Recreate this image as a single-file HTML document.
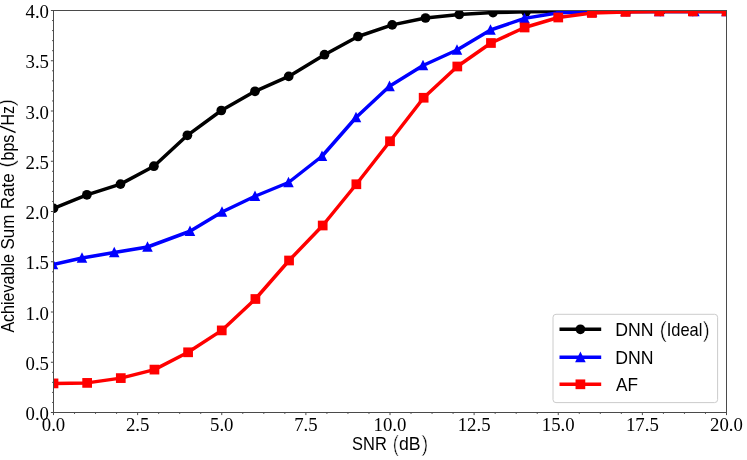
<!DOCTYPE html>
<html><head><meta charset="utf-8"><title>Achievable Sum Rate vs SNR</title>
<style>html,body{margin:0;padding:0;background:#fff}svg{display:block}</style></head>
<body>
<svg width="747" height="460" viewBox="0 0 747 460">
<rect width="747" height="460" fill="#fff"/>
<defs><clipPath id="ax"><rect x="53.5" y="10.5" width="673.0" height="402.0"/></clipPath></defs>
<g clip-path="url(#ax)" fill="none" stroke-linejoin="round" stroke-linecap="butt">
<polyline points="53.50,208.40 86.90,194.80 120.50,184.10 153.90,166.20 187.40,135.30 221.30,110.50 255.00,91.30 288.70,76.40 324.50,54.70 358.00,36.50 392.20,24.90 425.50,18.00 459.25,14.50 493.00,12.60 526.00,11.80 558.25,11.40 591.90,11.40 626.75,11.40 660.40,11.40 692.85,11.40 726.50,11.40" stroke="#000" stroke-width="3.47"/>
<circle cx="53.50" cy="208.40" r="4.86" fill="#000"/><circle cx="86.90" cy="194.80" r="4.86" fill="#000"/><circle cx="120.50" cy="184.10" r="4.86" fill="#000"/><circle cx="153.90" cy="166.20" r="4.86" fill="#000"/><circle cx="187.40" cy="135.30" r="4.86" fill="#000"/><circle cx="221.30" cy="110.50" r="4.86" fill="#000"/><circle cx="255.00" cy="91.30" r="4.86" fill="#000"/><circle cx="288.70" cy="76.40" r="4.86" fill="#000"/><circle cx="324.50" cy="54.70" r="4.86" fill="#000"/><circle cx="358.00" cy="36.50" r="4.86" fill="#000"/><circle cx="392.20" cy="24.90" r="4.86" fill="#000"/><circle cx="425.50" cy="18.00" r="4.86" fill="#000"/><circle cx="459.25" cy="14.50" r="4.86" fill="#000"/><circle cx="493.00" cy="12.60" r="4.86" fill="#000"/><circle cx="526.00" cy="11.80" r="4.86" fill="#000"/><circle cx="558.25" cy="11.40" r="4.86" fill="#000"/><circle cx="591.90" cy="11.40" r="4.86" fill="#000"/><circle cx="626.75" cy="11.40" r="4.86" fill="#000"/><circle cx="660.40" cy="11.40" r="4.86" fill="#000"/><circle cx="692.85" cy="11.40" r="4.86" fill="#000"/><circle cx="726.50" cy="11.40" r="4.86" fill="#000"/>
<polyline points="53.00,264.50 82.00,258.00 114.25,252.50 147.50,247.00 190.00,231.25 222.00,212.00 255.00,196.25 288.50,182.50 322.00,156.25 356.00,117.50 389.50,86.30 423.00,65.50 457.00,50.00 490.50,30.00 524.50,18.40 558.50,12.70 592.00,11.80 625.55,11.40 659.20,11.40 694.35,11.40 726.50,11.40" stroke="#0000ff" stroke-width="3.47"/>
<polygon points="53.00,258.78 47.71,269.36 58.29,269.36" fill="#0000ff"/><polygon points="82.00,252.28 76.71,262.86 87.29,262.86" fill="#0000ff"/><polygon points="114.25,246.78 108.96,257.36 119.54,257.36" fill="#0000ff"/><polygon points="147.50,241.28 142.21,251.86 152.79,251.86" fill="#0000ff"/><polygon points="190.00,225.53 184.71,236.11 195.29,236.11" fill="#0000ff"/><polygon points="222.00,206.28 216.71,216.86 227.29,216.86" fill="#0000ff"/><polygon points="255.00,190.53 249.71,201.11 260.29,201.11" fill="#0000ff"/><polygon points="288.50,176.78 283.21,187.36 293.79,187.36" fill="#0000ff"/><polygon points="322.00,150.53 316.71,161.11 327.29,161.11" fill="#0000ff"/><polygon points="356.00,111.78 350.71,122.36 361.29,122.36" fill="#0000ff"/><polygon points="389.50,80.58 384.21,91.16 394.79,91.16" fill="#0000ff"/><polygon points="423.00,59.78 417.71,70.36 428.29,70.36" fill="#0000ff"/><polygon points="457.00,44.28 451.71,54.86 462.29,54.86" fill="#0000ff"/><polygon points="490.50,24.28 485.21,34.86 495.79,34.86" fill="#0000ff"/><polygon points="524.50,12.68 519.21,23.26 529.79,23.26" fill="#0000ff"/><polygon points="558.50,6.98 553.21,17.56 563.79,17.56" fill="#0000ff"/><polygon points="592.00,6.08 586.71,16.66 597.29,16.66" fill="#0000ff"/><polygon points="625.55,5.68 620.26,16.26 630.84,16.26" fill="#0000ff"/><polygon points="659.20,5.68 653.91,16.26 664.49,16.26" fill="#0000ff"/><polygon points="694.35,5.68 689.06,16.26 699.64,16.26" fill="#0000ff"/><polygon points="726.50,5.68 721.21,16.26 731.79,16.26" fill="#0000ff"/>
<polyline points="53.50,383.40 87.15,382.90 120.80,378.10 154.45,369.60 188.10,352.30 221.75,330.40 255.40,299.00 289.05,260.50 322.70,225.50 356.35,184.25 390.00,141.25 423.65,97.75 457.30,66.50 490.95,43.00 524.60,27.50 558.25,17.50 591.90,13.00 625.55,11.90 659.20,11.40 692.85,11.40 726.50,11.40" stroke="#ff0000" stroke-width="3.47"/>
<rect x="48.64" y="378.54" width="9.72" height="9.72" fill="#ff0000"/><rect x="82.29" y="378.04" width="9.72" height="9.72" fill="#ff0000"/><rect x="115.94" y="373.24" width="9.72" height="9.72" fill="#ff0000"/><rect x="149.59" y="364.74" width="9.72" height="9.72" fill="#ff0000"/><rect x="183.24" y="347.44" width="9.72" height="9.72" fill="#ff0000"/><rect x="216.89" y="325.54" width="9.72" height="9.72" fill="#ff0000"/><rect x="250.54" y="294.14" width="9.72" height="9.72" fill="#ff0000"/><rect x="284.19" y="255.64" width="9.72" height="9.72" fill="#ff0000"/><rect x="317.84" y="220.64" width="9.72" height="9.72" fill="#ff0000"/><rect x="351.49" y="179.39" width="9.72" height="9.72" fill="#ff0000"/><rect x="385.14" y="136.39" width="9.72" height="9.72" fill="#ff0000"/><rect x="418.79" y="92.89" width="9.72" height="9.72" fill="#ff0000"/><rect x="452.44" y="61.64" width="9.72" height="9.72" fill="#ff0000"/><rect x="486.09" y="38.14" width="9.72" height="9.72" fill="#ff0000"/><rect x="519.74" y="22.64" width="9.72" height="9.72" fill="#ff0000"/><rect x="553.39" y="12.64" width="9.72" height="9.72" fill="#ff0000"/><rect x="587.04" y="8.14" width="9.72" height="9.72" fill="#ff0000"/><rect x="620.69" y="7.04" width="9.72" height="9.72" fill="#ff0000"/><rect x="654.34" y="6.54" width="9.72" height="9.72" fill="#ff0000"/><rect x="687.99" y="6.54" width="9.72" height="9.72" fill="#ff0000"/><rect x="721.64" y="6.54" width="9.72" height="9.72" fill="#ff0000"/>
</g>
<path d="M53.50,412.5v2.6M137.62,412.5v2.6M221.75,412.5v2.6M305.88,412.5v2.6M390.00,412.5v2.6M474.12,412.5v2.6M558.25,412.5v2.6M642.38,412.5v2.6M726.50,412.5v2.6M74.53,412.5v1.4M95.56,412.5v1.4M116.59,412.5v1.4M158.66,412.5v1.4M179.69,412.5v1.4M200.72,412.5v1.4M242.78,412.5v1.4M263.81,412.5v1.4M284.84,412.5v1.4M326.91,412.5v1.4M347.94,412.5v1.4M368.97,412.5v1.4M411.03,412.5v1.4M432.06,412.5v1.4M453.09,412.5v1.4M495.16,412.5v1.4M516.19,412.5v1.4M537.22,412.5v1.4M579.28,412.5v1.4M600.31,412.5v1.4M621.34,412.5v1.4M663.41,412.5v1.4M684.44,412.5v1.4M705.47,412.5v1.4M53.5,412.50h-2.6M53.5,362.25h-2.6M53.5,312.00h-2.6M53.5,261.75h-2.6M53.5,211.50h-2.6M53.5,161.25h-2.6M53.5,111.00h-2.6M53.5,60.75h-2.6M53.5,10.50h-2.6M53.5,402.45h-1.4M53.5,392.40h-1.4M53.5,382.35h-1.4M53.5,372.30h-1.4M53.5,352.20h-1.4M53.5,342.15h-1.4M53.5,332.10h-1.4M53.5,322.05h-1.4M53.5,301.95h-1.4M53.5,291.90h-1.4M53.5,281.85h-1.4M53.5,271.80h-1.4M53.5,251.70h-1.4M53.5,241.65h-1.4M53.5,231.60h-1.4M53.5,221.55h-1.4M53.5,201.45h-1.4M53.5,191.40h-1.4M53.5,181.35h-1.4M53.5,171.30h-1.4M53.5,151.20h-1.4M53.5,141.15h-1.4M53.5,131.10h-1.4M53.5,121.05h-1.4M53.5,100.95h-1.4M53.5,90.90h-1.4M53.5,80.85h-1.4M53.5,70.80h-1.4M53.5,50.70h-1.4M53.5,40.65h-1.4M53.5,30.60h-1.4M53.5,20.55h-1.4" stroke="#4a4a4a" stroke-width="1" fill="none"/>
<rect x="53.5" y="10.5" width="673.0" height="402.0" fill="none" stroke="#4a4a4a" stroke-width="1"/>
<g font-family="'Liberation Serif', serif" font-size="18.8" fill="#000">
<text x="53.50" y="430.5" text-anchor="middle">0.0</text>
<text x="137.62" y="430.5" text-anchor="middle">2.5</text>
<text x="221.75" y="430.5" text-anchor="middle">5.0</text>
<text x="305.88" y="430.5" text-anchor="middle">7.5</text>
<text x="390.00" y="430.5" text-anchor="middle">10.0</text>
<text x="474.12" y="430.5" text-anchor="middle">12.5</text>
<text x="558.25" y="430.5" text-anchor="middle">15.0</text>
<text x="642.38" y="430.5" text-anchor="middle">17.5</text>
<text x="726.50" y="430.5" text-anchor="middle">20.0</text>
<text x="49" y="420.00" text-anchor="end">0.0</text>
<text x="49" y="369.75" text-anchor="end">0.5</text>
<text x="49" y="319.50" text-anchor="end">1.0</text>
<text x="49" y="269.25" text-anchor="end">1.5</text>
<text x="49" y="219.00" text-anchor="end">2.0</text>
<text x="49" y="168.75" text-anchor="end">2.5</text>
<text x="49" y="118.50" text-anchor="end">3.0</text>
<text x="49" y="68.25" text-anchor="end">3.5</text>
<text x="49" y="18.00" text-anchor="end">4.0</text>
</g>
<g font-family="'Liberation Sans', sans-serif" fill="#000" class="sans">
<text font-size="17.8"><tspan x="352.06" y="450.10" textLength="34.70" lengthAdjust="spacingAndGlyphs">SNR</tspan> <tspan x="392.68" y="451.30" font-size="21.3" stroke="#fff" stroke-width="0.45" textLength="6.01" lengthAdjust="spacingAndGlyphs">(</tspan><tspan x="399.06" y="450.10" textLength="21.56" lengthAdjust="spacingAndGlyphs">dB</tspan><tspan x="421.40" y="451.30" font-size="21.3" stroke="#fff" stroke-width="0.45" textLength="6.76" lengthAdjust="spacingAndGlyphs">)</tspan></text>
<text transform="translate(13.8,332.6) rotate(-90)" font-size="17.8"><tspan x="-0.03" y="0.00" textLength="78.54" lengthAdjust="spacingAndGlyphs">Achievable</tspan> <tspan x="83.13" y="0.00" textLength="34.97" lengthAdjust="spacingAndGlyphs">Sum</tspan> <tspan x="123.40" y="0.00" textLength="36.06" lengthAdjust="spacingAndGlyphs">Rate</tspan> <tspan x="164.64" y="-0.40" font-size="21.3" stroke="#fff" stroke-width="0.45" textLength="8.39" lengthAdjust="spacingAndGlyphs">(</tspan><tspan x="172.18" y="0.00" textLength="25.70" lengthAdjust="spacingAndGlyphs">bps</tspan><tspan x="198.50" y="1.90" font-size="23.5" stroke="#fff" stroke-width="0.7" textLength="9.89" lengthAdjust="spacingAndGlyphs">/</tspan><tspan x="207.09" y="0.00" textLength="19.49" lengthAdjust="spacingAndGlyphs">Hz</tspan><tspan x="226.19" y="-0.40" font-size="21.3" stroke="#fff" stroke-width="0.45" textLength="7.64" lengthAdjust="spacingAndGlyphs">)</tspan></text>
<rect x="553" y="314.3" width="164.6" height="88.3" rx="3" ry="3" fill="#fff" fill-opacity="0.8" stroke="#ccc" stroke-width="1"/>
<line x1="559.5" x2="601.2" y1="329.3" y2="329.3" stroke="#000" stroke-width="3.47"/>
<circle cx="580.40" cy="329.30" r="4.86" fill="#000"/>
<text font-size="18.2"><tspan x="615.25" y="336.20" textLength="38.29" lengthAdjust="spacingAndGlyphs">DNN</tspan> <tspan x="659.42" y="337.40" font-size="21.3" stroke="#fff" stroke-width="0.45" textLength="7.39" lengthAdjust="spacingAndGlyphs">(</tspan><tspan x="666.68" y="336.20" textLength="35.71" lengthAdjust="spacingAndGlyphs">Ideal</tspan><tspan x="702.69" y="337.40" font-size="21.3" stroke="#fff" stroke-width="0.45" textLength="7.01" lengthAdjust="spacingAndGlyphs">)</tspan></text>
<line x1="559.5" x2="601.2" y1="357.3" y2="357.3" stroke="#0000ff" stroke-width="3.47"/>
<polygon points="580.40,351.58 575.11,362.16 585.69,362.16" fill="#0000ff"/>
<text font-size="18.2"><tspan x="615.25" y="364.20" textLength="38.29" lengthAdjust="spacingAndGlyphs">DNN</tspan></text>
<line x1="559.5" x2="601.2" y1="384.3" y2="384.3" stroke="#ff0000" stroke-width="3.47"/>
<rect x="575.54" y="379.44" width="9.72" height="9.72" fill="#ff0000"/>
<text font-size="18.2"><tspan x="615.97" y="391.20" textLength="22.02" lengthAdjust="spacingAndGlyphs">AF</tspan></text>
</g>
</svg>
</body></html>
